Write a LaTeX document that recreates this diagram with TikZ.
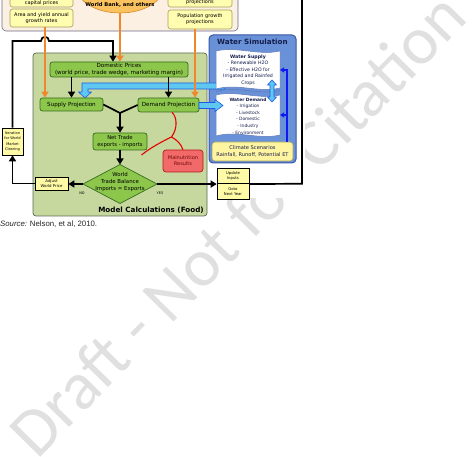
\documentclass[tikz,border=0pt]{standalone}
\usepackage{fontspec}
\setmainfont{DejaVu Sans}
\newfontfamily\wmfont{Carlito}
\newfontfamily\srcfont{Liberation Sans}
\usetikzlibrary{arrows.meta,shapes.geometric,calc}
\definecolor{cream}{RGB}{252,240,226}
\definecolor{creamedge}{RGB}{110,105,135}
\definecolor{yfill}{RGB}{255,253,175}
\definecolor{yline}{RGB}{165,160,95}
\definecolor{orng}{RGB}{240,135,45}
\definecolor{ellfill}{RGB}{250,195,95}
\definecolor{ellline}{RGB}{215,135,40}
\definecolor{panel}{RGB}{198,216,158}
\definecolor{panelline}{RGB}{95,105,85}
\definecolor{gfill}{RGB}{140,198,75}
\definecolor{gline}{RGB}{55,110,30}
\definecolor{wpanel}{RGB}{105,145,215}
\definecolor{wline}{RGB}{55,85,165}
\definecolor{band}{RGB}{95,200,240}
\definecolor{bandline}{RGB}{30,90,230}
\definecolor{bblue}{RGB}{15,25,240}
\definecolor{malfill}{RGB}{242,105,105}
\definecolor{malline}{RGB}{185,25,25}
\definecolor{maltext}{RGB}{110,10,10}
\definecolor{pfill}{RGB}{255,250,165}
\definecolor{wmgray}{RGB}{224,224,224}
\definecolor{navy}{RGB}{20,30,75}
\definecolor{climfill}{RGB}{255,245,160}
\begin{document}
\begin{tikzpicture}[x=1pt,y=-1pt,
  gbox/.style={draw=gline, fill=gfill, rounded corners=2.5pt, line width=0.7pt, inner sep=0pt, align=center, text=black, font=\fontsize{5.6}{6.6}\selectfont},
  ybox/.style={draw=yline, fill=yfill, rounded corners=2.5pt, line width=0.6pt, inner sep=0pt, align=center, font=\fontsize{5}{6.2}\selectfont},
  pbox/.style={draw=black, fill=pfill, line width=0.6pt, inner sep=0pt, align=center, font=\fontsize{3.8}{4.6}\selectfont},
  txt/.style={inner sep=0pt, align=center},
  blk/.style={draw=black, line width=1.7pt},
  orn/.style={draw=orng, line width=1.8pt},
  tip/.style={-{Triangle[length=6pt,width=7pt]}},
  btip/.style={-{Triangle[length=4pt,width=5pt]}},
  bandst/.style={fill=band, draw=bandline, line width=0.6pt, line join=round},
  redl/.style={draw=red!90!black, line width=1.1pt},
  bline/.style={draw=bblue, line width=1.5pt},
  doc/.style={fill=white, draw=wline!80, line width=0.5pt}]
\useasboundingbox (0,0) rectangle (474,457);
\clip (0,0) rectangle (474,457);
\fill[white] (0,0) rectangle (474,457);
% watermark
\node[rotate=45.5, text=wmgray, font=\wmfont\fontsize{68}{68}\selectfont, inner sep=0pt] (wm) at (237,224) {Draft - Not for Citation};
\fill[white] (0,0) rectangle (305,198);
% top input panel
\draw[draw=creamedge, fill=cream, rounded corners=4pt, line width=0.6pt] (2,-20) rectangle (238,31);
\node[ybox, minimum width=63pt, minimum height=19pt] (capbox) at (41.5,-2.5) {};
\node[txt, font=\fontsize{5}{6.2}\selectfont] (captxt) at (41.5,3) {capital prices};
\node[ybox, minimum width=63pt, minimum height=18pt] (area) at (41.5,18) {Area and yield annual\\growth rates};
\node[ellipse, draw=ellline, fill=ellfill, line width=0.6pt, minimum width=88pt, minimum height=54pt, inner sep=0pt] (wb) at (120,-14) {};
\node[txt, font=\bfseries\fontsize{5.2}{6.2}\selectfont] (wbtxt) at (120,5) {World Bank, and others};
\node[ybox, minimum width=64pt, minimum height=19pt] (projbox) at (200,-2.5) {};
\node[txt, font=\fontsize{5}{6.2}\selectfont] (projtxt) at (200,2) {projections};
\node[ybox, minimum width=64pt, minimum height=19pt] (pop) at (200,19.5) {Population growth\\projections};
% panels
\draw[draw=panelline, fill=panel, rounded corners=3pt, line width=0.7pt] (33,53) rectangle (207,216);
\node[txt, font=\bfseries\fontsize{7.2}{8}\selectfont] (mctitle) at (151,210.5) {Model Calculations (Food)};
\draw[draw=wline, fill=wpanel, rounded corners=4pt, line width=1pt] (209,35) rectangle (296,163);
\node[txt, text=navy, font=\bfseries\fontsize{7.2}{8}\selectfont] (wstitle) at (252.5,41.5) {Water Simulation};
% band from water supply to supply projection
\filldraw[bandst] (225,83) -- (82,83) -- (82,92) -- (78.5,92) -- (85,98) -- (91.5,92) -- (88,92) -- (88,89) -- (225,89) -- cycle;
% water docs
\draw[doc] (216,51) .. controls (237,46) and (259,56) .. (280,51) -- (280,88) .. controls (259,93) and (237,83) .. (216,89) -- cycle;
\draw[wline!80, line width=0.5pt] (216,91.5) .. controls (237,85.5) and (259,95.5) .. (280,90.5);
\draw[doc] (216,95) .. controls (237,90) and (259,100) .. (280,95) -- (280,135) .. controls (259,140) and (237,130) .. (216,136) -- cycle;
\node[txt, text=navy, font=\fontsize{4.7}{6.5}\selectfont] (wsup) at (248,70) {\textbf{Water Supply}\\- Renewable H2O\\- Effective H2O for\\Irrigated and Rainfed\\Crops};
\node[txt, text=navy, font=\fontsize{4.4}{6.6}\selectfont] (wdem) at (248,116) {\textbf{Water Demand}\\- Irrigation\\- Livestock\\- Domestic\\- Industry\\- Environment};
% double arrow between docs
\filldraw[bandst] (272,80) -- (276.5,85) -- (274,85) -- (274,97) -- (276.5,97) -- (272,102) -- (267.5,97) -- (270,97) -- (270,85) -- (267.5,85) -- cycle;
% climate
\node[draw=yline, fill=climfill, rounded corners=3pt, line width=0.6pt, inner sep=0pt, align=center, text=navy, font=\fontsize{5.1}{6.6}\selectfont, minimum width=81pt, minimum height=19pt] (clim) at (252.5,151.5) {Climate Scenarios\\Rainfall, Runoff, Potential ET};
\coordinate (cb) at (287,142);
\coordinate (bj) at (287,115);
\coordinate (wsR) at (280,70);
\coordinate (wdR) at (280,115);
\draw[bline, btip] (cb) |- (wsR);
\draw[bline, btip] (bj) -- (wdR);
% food model nodes
\node[gbox, minimum width=138pt, minimum height=15pt] (dom) at (119,69.5) {Domestic Prices\\(world price, trade wedge, marketing margin)};
\node[gbox, minimum width=63pt, minimum height=13pt] (sup) at (71.5,104.5) {Supply Projection};
\node[gbox, minimum width=61pt, minimum height=14pt] (dem) at (168.5,105) {Demand Projection};
\node[gbox, minimum width=54pt, minimum height=17pt, font=\fontsize{5.3}{6.4}\selectfont] (nt) at (120,141.5) {Net Trade\\exports - imports};
\node[draw=malline, fill=malfill, rounded corners=3pt, line width=0.7pt, inner sep=0pt, align=center, text=maltext, font=\fontsize{5}{6.2}\selectfont, minimum width=40pt, minimum height=22pt] (mal) at (183,161) {Malnutrition\\Results};
% band demand -> water demand
\filldraw[bandst] (199,102.5) -- (215,102.5) -- (215,99.5) -- (223,105.5) -- (215,111.5) -- (215,108.5) -- (199,108.5) -- cycle;
% diamond
\coordinate (dt) at (120,164.5);
\coordinate (db) at (120,203.5);
\coordinate (dl) at (83,184);
\coordinate (dr) at (157,184);
\draw[draw=gline, fill=gfill, line width=0.7pt, line join=round] (dt) -- (dr) -- (db) -- (dl) -- cycle;
\node[txt, font=\fontsize{5.4}{7}\selectfont] (dtext) at (120,182) {World\\Trade Balance\\Imports = Exports};
\node[txt, font=\fontsize{3.5}{4}\selectfont] (no) at (82,193) {NO};
\node[txt, font=\fontsize{3.5}{4}\selectfont] (yes) at (160,193) {YES};
% pale boxes
\node[pbox, minimum width=33pt, minimum height=13pt, font=\fontsize{3.9}{4.8}\selectfont] (adj) at (51.5,183.5) {Adjust\\World Price};
\node[pbox, minimum width=21pt, minimum height=27pt, font=\fontsize{3.6}{5.2}\selectfont] (iter) at (12.5,141.5) {Iteration\\for World\\Market\\Clearing};
\node[pbox, minimum width=32pt, minimum height=15.5pt] (upd) at (233,176) {Update\\Inputs};
\node[pbox, minimum width=32pt, minimum height=15.5pt] (goto) at (233,191.5) {Goto\\Next Year};
% black connectors
\coordinate (lc1) at (12.5,41);
\coordinate (lc2) at (41,41);
\coordinate (lc3) at (49,41);
\coordinate (lc4) at (113,41);
\draw[blk, tip] (iter.north) -- (lc1) -- (lc2) .. controls (41,35.5) and (49,35.5) .. (lc3) -- (lc4) -- (lc4 |- dom.north);
\draw[blk, tip] (dom.south -| sup.north) -- (sup.north);
\draw[blk, tip] (dom.south -| dem.north) -- (dem.north);
\coordinate (jn) at (120,113);
\draw[blk, line join=round] (sup.east) -- (jn) -- (dem.west);
\draw[blk, tip] (jn) -- (nt.north);
\draw[blk, tip] (nt.south) -- (dt);
\draw[blk, tip] (dl) -- (dl -| adj.east);
\draw[blk, tip] (adj.west) -| (iter.south);
\draw[blk, tip] (dr) -- (upd.south west);
\coordinate (rc) at (302,183.75);
\coordinate (rt) at (302,-5);
\draw[blk] (upd.south east) -- (rc) -- (rt);
% orange connectors
\coordinate (oa) at ($(area.south)+(3.5,0)$);
\draw[orn, tip] (oa) -- (oa |- sup.north);
\draw[orn, tip] (wb.south) -- (wb.south |- dom.north);
\coordinate (op) at ($(pop.south)+(-5,0)$);
\draw[orn, tip] (op) -- (op |- dem.north);
% red malnutrition link
\coordinate (r0) at ($(dem.south)+(3.5,0)$);
\coordinate (rj) at (171.5,137);
\coordinate (rend) at (141.5,155);
\draw[redl] (r0) .. controls (177,117) and (178,128) .. (rj);
\draw[redl] (rj) .. controls (163,141) and (150,148) .. (rend);
\draw[redl] (rj) .. controls (177,140) and (181,144) .. (mal.north);
% source
\node[anchor=west, inner sep=0pt, text=black!85, font=\srcfont\fontsize{7.8}{9}\selectfont] (src) at (0,224.5) {\textit{Source:} Nelson, et al, 2010.};
\end{tikzpicture}
\end{document}
